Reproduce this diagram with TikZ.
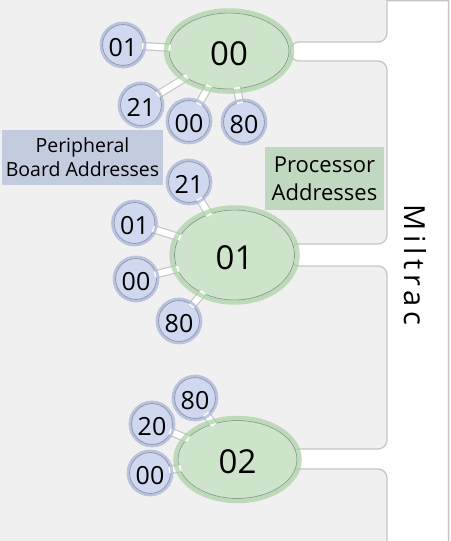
\documentclass[tikz,border=0pt]{standalone}
\usepackage{fontspec}
\setmainfont{Open Sans}
\newfontfamily\busfont[LetterSpace=16]{Open Sans}
\usepackage{tkz-graph}
\usetikzlibrary{shapes.geometric}

\definecolor{BackGray}{HTML}{F0F0F0}
\definecolor{LineGray}{HTML}{C6C6C6}
\definecolor{RimGray}{HTML}{8E9098}
\definecolor{ProcFill}{HTML}{CDE4CA}
\definecolor{ProcRim}{HTML}{A6D29F}
\definecolor{AddrFill}{HTML}{CFD8EE}
\definecolor{AddrRim}{HTML}{A3B1D6}
\definecolor{PerBox}{HTML}{C3CBDF}
\definecolor{ProcBox}{HTML}{C0D8BF}

\begin{document}
\begin{tikzpicture}[x=1pt,y=-1pt]

		\useasboundingbox (0,0) rectangle (450,541);
		\fill[BackGray] (0,0) rectangle (450,541);

		% backplane with the three bus stubs
		\draw[draw=LineGray, line width=1.3pt, fill=white]
		(387,20) [rounded corners=9pt] -- (387,42) -- (290,42) -- (290,61) -- (387,61)
		-- (387,244) -- (290,244) -- (290,266) -- (387,266)
		-- (387,449) -- (290,449) -- (290,469) -- (387,469) -- (387,560)
		[sharp corners] -- (448.5,560) -- (448.5,0.7) -- (387,0.7) -- cycle;

		\node[rotate=-90, font=\busfont\fontsize{29}{29}\selectfont] (Bus) at (415,265) {Miltrac};

		\node[fill=PerBox, minimum width=161pt, minimum height=55pt, inner sep=0pt, align=center,
		font=\fontsize{19.5}{24}\selectfont] (PerLabel) at (82.5,157.5) {Peripheral\\Board Addresses};
		\node[fill=ProcBox, minimum width=119pt, minimum height=63pt, inner sep=0pt, align=center,
		font=\fontsize{22}{28}\selectfont] (ProcLabel) at (324.5,178.5) {Processor\\Addresses};

		\tikzset{VertexStyle/.style = {draw=RimGray, fill=AddrFill, shape=circle, line width=0.8pt,
				minimum size=41pt, inner sep=0pt, text height=22pt, text depth=0pt,
				font=\fontsize{25}{25}\selectfont}}
		\Vertex[x=123,y=45,L=01]{T01}
		\Vertex[x=141,y=105,L=21]{T21}
		\Vertex[x=189,y=121,L=00]{T00}
		\Vertex[x=244,y=122,L=80]{T80}
		\Vertex[x=189,y=182,L=21]{M21}
		\Vertex[x=134.5,y=223,L=01]{M01}
		\Vertex[x=136,y=279,L=00]{M00}
		\Vertex[x=179,y=321,L=80]{M80}
		\Vertex[x=195,y=398,L=80]{B80}
		\Vertex[x=152,y=424,L=20]{B20}
		\Vertex[x=150,y=473,L=00]{B00}

		\tikzset{VertexStyle/.style = {draw=RimGray, fill=ProcFill, shape=ellipse, line width=0.8pt,
				inner sep=0pt, text height=28pt, text depth=0pt, font=\fontsize{33}{33}\selectfont}}
		\Vertex[x=229,y=51,L=00,style={minimum width=120pt, minimum height=76pt}]{P00}
		\Vertex[x=234.5,y=255,L=01,style={minimum width=120pt, minimum height=90pt}]{P01}
		\Vertex[x=237.5,y=459.5,L=02,style={minimum width=119pt, minimum height=78pt}]{P02}

		\tikzset{EdgeStyle/.style = {draw=LineGray, line width=1.2pt, double=white, double distance=6pt,
				shorten <=-1.5pt, shorten >=-1.5pt}}
		\tikzset{LabelStyle/.style = {draw=none, fill=none, inner sep=0pt}}

		\Edge(T01)(P00)
		\Edge(T21)(P00)
		\Edge(T00)(P00)
		\Edge(T80)(P00)
		\Edge(M21)(P01)
		\Edge(M01)(P01)
		\Edge(M00)(P01)
		\Edge(M80)(P01)
		\Edge(B80)(P02)
		\Edge(B20)(P02)
		\Edge(B00)(P02)

		% soft rims round every vertex
		\foreach \v in {T01,T21,T00,T80,M21,M01,M00,M80,B80,B20,B00}
		\draw[draw=AddrRim, draw opacity=.7, line width=2.8pt] (\v.center) circle (22pt);
		\foreach \v/\rx/\ry in {P00/63/40.5, P01/63/47.5, P02/62/41.5}
		\draw[draw=ProcRim, draw opacity=.7, line width=4.5pt] (\v.center) ellipse ({\rx pt} and {\ry pt});

\end{tikzpicture}
\end{document}
